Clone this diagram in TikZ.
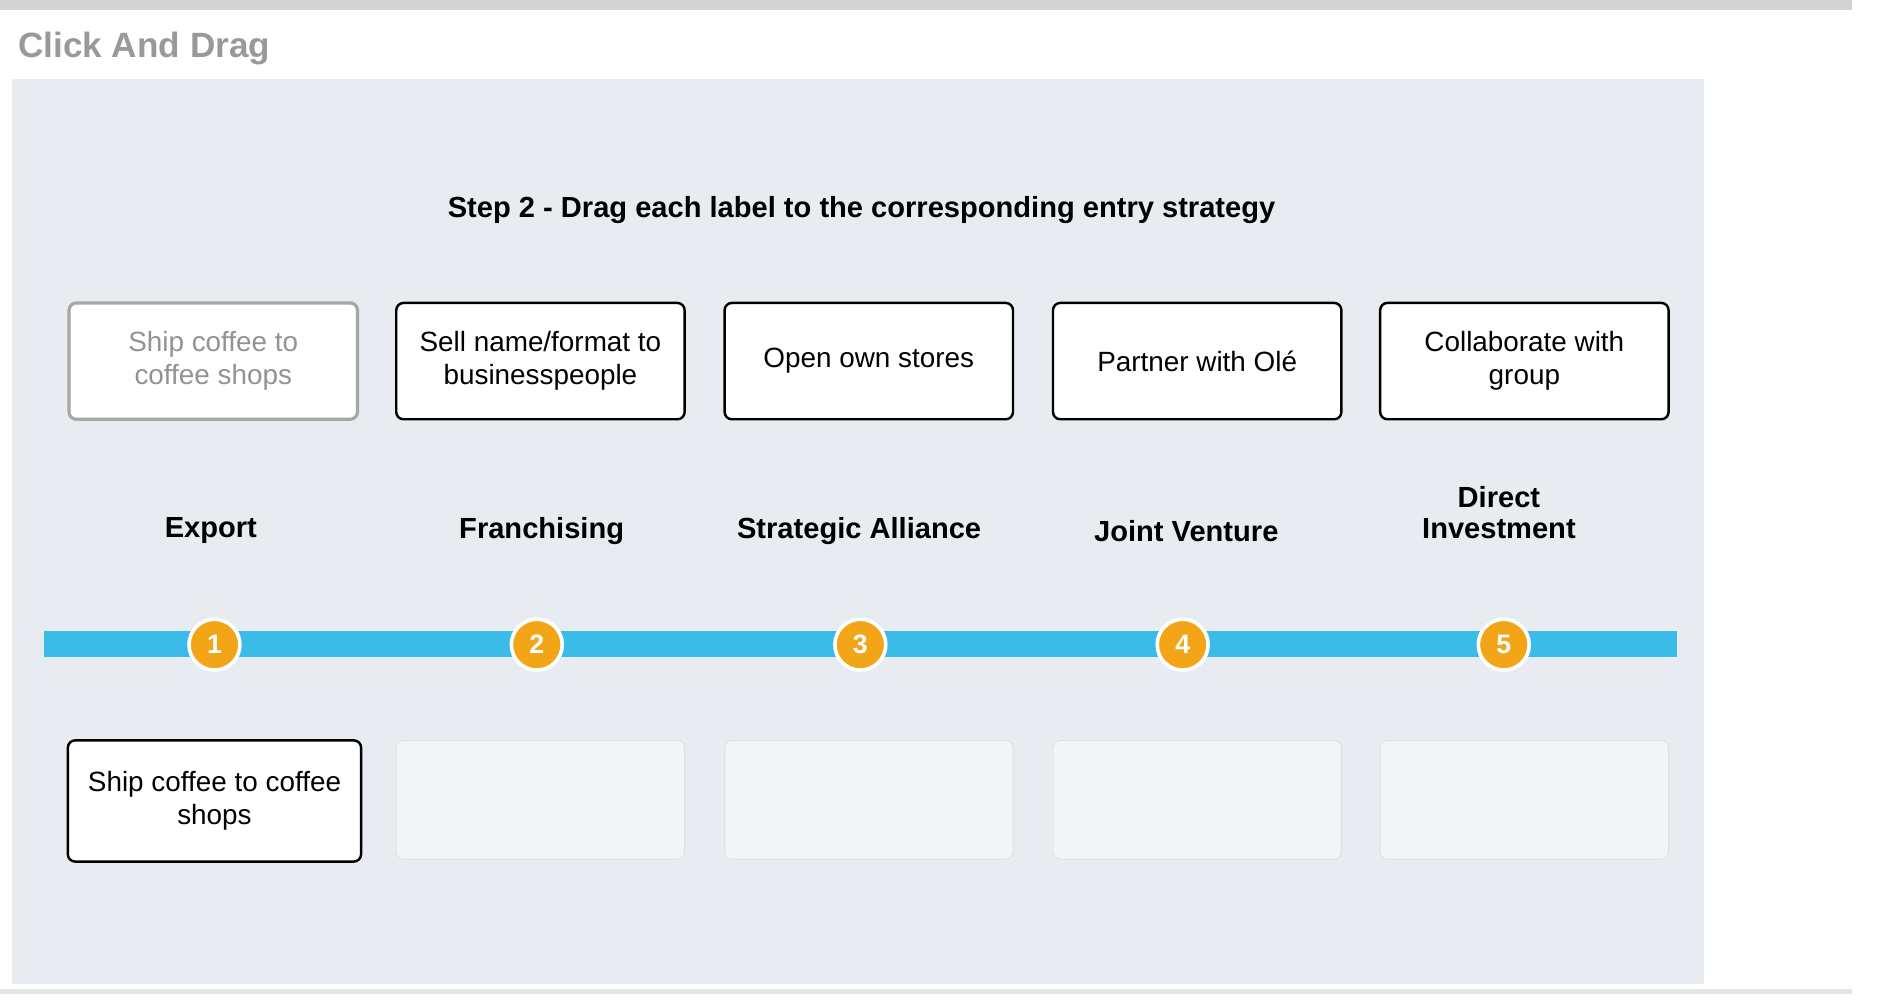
\documentclass[tikz,border=0pt]{standalone}
\usepackage{fontspec}
\setmainfont{Liberation Sans}
\usepackage{tikz}
\definecolor{panel}{HTML}{E8ECF0}
\definecolor{barblue}{HTML}{3BBCE8}
\definecolor{stepor}{HTML}{F2A516}
\definecolor{emptybox}{HTML}{F2F5F8}

\begin{document}
\begin{tikzpicture}[x=0.5pt, y=-0.5pt,
		labelbox/.style={draw=black, line width=1pt, rounded corners=3pt, fill=white, minimum width=119pt, minimum height=48pt, align=center, font=\fontsize{11.5}{13.5}\selectfont},
		usedbox/.style={labelbox, draw=gray!70, text=gray!85, line width=1.3pt},
		slotbox/.style={draw=gray!25, fill=emptybox, rounded corners=3pt, minimum width=119pt, minimum height=49pt},
		catlabel/.style={font=\bfseries\fontsize{12}{13}\selectfont, align=center},
		stepdot/.style={circle, fill=stepor, draw=white, line width=1.5pt, minimum size=21pt, inner sep=0pt, text=white, font=\bfseries\fontsize{11}{11}\selectfont}]
		\useasboundingbox (0,0) rectangle (1568,830);
		\fill[gray!35] (0,0) rectangle (1528,8);
		\fill[gray!20] (0,816) rectangle (1528,820);
		\node[anchor=west, text=gray!80, font=\bfseries\fontsize{14.5}{15}\selectfont] (head) at (8,40) {Click And Drag};
		\fill[panel] (10,65) rectangle (1406,812);
		\node[font=\bfseries\fontsize{12}{13}\selectfont] (title) at (711,173) {Step 2 - Drag each label to the corresponding entry strategy};
		
		\node[usedbox] (t1) at (176,298) {Ship coffee to\\coffee shops};
		\node[labelbox] (t2) at (446,298) {Sell name/format to\\businesspeople};
		\node[labelbox] (t3) at (717,298) {Open own stores};
		\node[labelbox] (t4) at (988,298) {Partner with Olé};
		\node[labelbox] (t5) at (1258,298) {Collaborate with\\group};
		
		\node[catlabel] (c1) at (174,438) {Export};
		\node[catlabel] (c2) at (447,438) {Franchising};
		\node[catlabel] (c3) at (709,438) {Strategic Alliance};
		\node[catlabel] (c4) at (979,438) {Joint Venture};
		\node[catlabel] (c5) at (1237,423) {Direct\\Investment};
		
		\fill[barblue] (36,521) rectangle (1384,542);
		\foreach \n/\x in {1/177, 2/443, 3/710, 4/976, 5/1241} {
			\node[stepdot] (d\n) at (\x,532) {\n};
		}
		
		\node[labelbox, minimum width=121pt, minimum height=50pt] (b1) at (177,661) {Ship coffee to coffee\\shops};
		\foreach \n/\x in {2/446, 3/717, 4/988, 5/1258} {
			\node[slotbox] (b\n) at (\x,660) {};
		}
	\end{tikzpicture}
\end{document}
